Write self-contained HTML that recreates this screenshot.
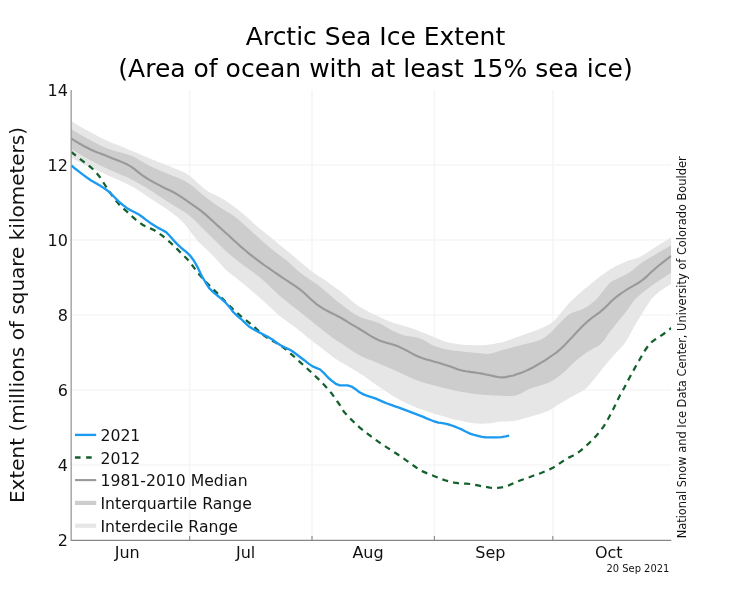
<!DOCTYPE html>
<html lang="en"><head><meta charset="utf-8"><title>Arctic Sea Ice Extent</title>
<style>html,body{margin:0;padding:0;background:#fff;width:750px;height:600px;overflow:hidden}</style></head>
<body>
<svg width="750" height="600" viewBox="0 0 750 600" style="position:absolute;left:0;top:0;font-family:'DejaVu Sans','Liberation Sans',sans-serif">
<rect width="750" height="600" fill="#fff"/>
<path d="M71.25,465.0H671.25 M71.25,390.0H671.25 M71.25,315.0H671.25 M71.25,240.0H671.25 M71.25,165.0H671.25 M189.7,90V540 M312.0,90V540 M434.4,90V540 M552.8,90V540" stroke="#f6f6f6" stroke-width="1.6" fill="none"/>
<clipPath id="ax"><rect x="71.25" y="90" width="600.0" height="450"/></clipPath><g clip-path="url(#ax)">
<path d="M71.4,121.0 L75.3,123.5 L79.3,125.9 L83.2,128.2 L87.2,130.5 L91.1,132.6 L95.1,134.7 L99.0,136.8 L103.0,138.7 L106.9,140.6 L110.9,142.4 L114.8,144.0 L118.8,145.6 L122.7,147.1 L126.7,148.7 L130.6,150.3 L134.6,151.9 L138.5,153.6 L142.4,155.4 L146.4,157.1 L150.3,158.7 L154.3,160.3 L158.2,161.9 L162.2,163.5 L166.1,165.0 L170.1,166.6 L174.0,168.2 L178.0,169.7 L181.9,171.3 L185.9,173.2 L189.8,175.9 L193.8,179.3 L197.7,182.9 L201.7,186.5 L205.6,189.7 L209.5,192.2 L213.5,194.2 L217.4,196.1 L221.4,198.2 L225.3,200.6 L229.3,203.3 L233.2,206.1 L237.2,209.1 L241.1,212.2 L245.1,215.5 L249.0,219.0 L253.0,222.7 L256.9,226.2 L260.9,229.4 L264.8,232.5 L268.8,235.7 L272.7,238.9 L276.6,242.2 L280.6,245.5 L284.5,248.8 L288.5,252.1 L292.4,255.3 L296.4,258.6 L300.3,261.9 L304.3,265.2 L308.2,268.6 L312.2,271.8 L316.1,274.6 L320.1,277.1 L324.0,279.6 L328.0,282.3 L331.9,285.0 L335.8,287.9 L339.8,290.8 L343.7,294.0 L347.7,297.3 L351.6,300.7 L355.6,303.9 L359.5,306.7 L363.5,309.1 L367.4,311.3 L371.4,313.3 L375.3,315.1 L379.3,317.0 L383.2,318.7 L387.2,320.5 L391.1,322.0 L395.1,323.4 L399.0,324.6 L402.9,325.6 L406.9,326.7 L410.8,327.9 L414.8,329.3 L418.7,330.9 L422.7,332.5 L426.6,334.1 L430.6,335.7 L434.5,337.3 L438.5,339.0 L442.4,340.7 L446.4,342.1 L450.3,342.9 L454.3,343.6 L458.2,344.2 L462.2,344.7 L466.1,345.0 L470.0,345.1 L474.0,345.2 L477.9,345.3 L481.9,345.3 L485.8,345.0 L489.8,344.5 L493.7,343.9 L497.7,343.1 L501.6,342.4 L505.6,341.3 L509.5,339.9 L513.5,338.4 L517.4,336.9 L521.4,335.5 L525.3,334.2 L529.3,332.8 L533.2,331.4 L537.1,329.9 L541.1,328.2 L545.0,326.5 L549.0,324.6 L552.9,322.0 L556.9,317.9 L560.8,312.9 L564.8,308.3 L568.7,303.6 L572.7,299.4 L576.6,295.9 L580.6,292.5 L584.5,289.1 L588.5,285.9 L592.4,282.6 L596.4,279.4 L600.3,276.3 L604.2,273.5 L608.2,270.8 L612.1,268.3 L616.1,266.1 L620.0,264.2 L624.0,262.4 L627.9,260.8 L631.9,259.6 L635.8,258.4 L639.8,257.0 L643.7,254.8 L647.7,252.3 L651.6,249.5 L655.6,247.0 L659.5,244.5 L663.5,242.1 L667.4,239.7 L671.2,237.3 L671.2,284.0 L667.4,286.2 L663.5,288.8 L659.5,291.6 L655.6,294.8 L651.6,298.8 L647.7,304.6 L643.7,310.9 L639.8,317.2 L635.8,323.7 L631.9,330.7 L627.9,338.4 L624.0,344.3 L620.0,348.7 L616.1,352.8 L612.1,357.2 L608.2,361.8 L604.2,366.5 L600.3,371.4 L596.4,376.4 L592.4,381.2 L588.5,386.0 L584.5,389.8 L580.6,392.1 L576.6,394.0 L572.7,396.2 L568.7,398.4 L564.8,400.7 L560.8,403.1 L556.9,405.6 L552.9,408.3 L549.0,410.5 L545.0,412.1 L541.1,413.5 L537.1,414.7 L533.2,415.8 L529.3,416.9 L525.3,418.1 L521.4,419.2 L517.4,420.2 L513.5,421.0 L509.5,421.3 L505.6,421.4 L501.6,421.5 L497.7,421.8 L493.7,422.7 L489.8,423.3 L485.8,423.5 L481.9,423.7 L477.9,423.6 L474.0,423.3 L470.0,422.7 L466.1,421.9 L462.2,421.1 L458.2,420.3 L454.3,419.4 L450.3,418.4 L446.4,417.3 L442.4,416.1 L438.5,414.9 L434.5,413.7 L430.6,412.5 L426.6,411.3 L422.7,410.0 L418.7,408.5 L414.8,407.0 L410.8,405.3 L406.9,403.4 L402.9,401.5 L399.0,399.5 L395.1,397.2 L391.1,394.8 L387.2,392.2 L383.2,389.6 L379.3,387.0 L375.3,384.3 L371.4,381.4 L367.4,378.6 L363.5,375.8 L359.5,373.2 L355.6,370.8 L351.6,368.5 L347.7,366.1 L343.7,363.7 L339.8,361.4 L335.8,359.0 L331.9,356.3 L328.0,353.1 L324.0,349.9 L320.1,346.7 L316.1,343.9 L312.2,341.1 L308.2,338.1 L304.3,334.6 L300.3,331.3 L296.4,328.2 L292.4,325.3 L288.5,322.4 L284.5,319.5 L280.6,316.5 L276.6,313.2 L272.7,309.6 L268.8,306.0 L264.8,302.3 L260.9,298.8 L256.9,295.3 L253.0,291.9 L249.0,288.5 L245.1,285.2 L241.1,281.9 L237.2,278.8 L233.2,275.8 L229.3,272.7 L225.3,269.2 L221.4,265.0 L217.4,260.5 L213.5,256.2 L209.5,252.2 L205.6,248.4 L201.7,245.0 L197.7,241.2 L193.8,236.1 L189.8,230.8 L185.9,225.6 L181.9,221.2 L178.0,217.6 L174.0,214.4 L170.1,211.5 L166.1,208.6 L162.2,206.0 L158.2,203.4 L154.3,200.9 L150.3,198.4 L146.4,195.8 L142.4,193.1 L138.5,190.5 L134.6,188.0 L130.6,185.7 L126.7,183.7 L122.7,181.9 L118.8,180.1 L114.8,178.4 L110.9,176.7 L106.9,174.9 L103.0,173.1 L99.0,171.2 L95.1,169.4 L91.1,167.5 L87.2,165.7 L83.2,163.8 L79.3,161.9 L75.3,159.9 L71.4,158.0Z" fill="#e6e6e6"/>
<path d="M71.4,129.3 L75.3,131.7 L79.3,134.1 L83.2,136.3 L87.2,138.5 L91.1,140.6 L95.1,142.7 L99.0,144.7 L103.0,146.6 L106.9,148.3 L110.9,149.8 L114.8,151.0 L118.8,152.0 L122.7,153.1 L126.7,154.2 L130.6,155.5 L134.6,157.3 L138.5,159.5 L142.4,161.8 L146.4,164.1 L150.3,166.2 L154.3,168.0 L158.2,169.8 L162.2,171.4 L166.1,173.1 L170.1,174.7 L174.0,176.3 L178.0,177.7 L181.9,179.4 L185.9,181.4 L189.8,183.9 L193.8,186.9 L197.7,190.4 L201.7,193.9 L205.6,197.1 L209.5,200.1 L213.5,203.0 L217.4,205.8 L221.4,208.3 L225.3,210.7 L229.3,213.0 L233.2,215.5 L237.2,218.4 L241.1,221.7 L245.1,225.4 L249.0,229.1 L253.0,232.7 L256.9,236.3 L260.9,239.8 L264.8,243.3 L268.8,246.7 L272.7,250.0 L276.6,253.0 L280.6,255.9 L284.5,258.8 L288.5,262.1 L292.4,265.8 L296.4,269.4 L300.3,272.8 L304.3,275.7 L308.2,278.5 L312.2,281.1 L316.1,283.8 L320.1,286.7 L324.0,289.9 L328.0,293.4 L331.9,296.8 L335.8,300.2 L339.8,303.3 L343.7,306.3 L347.7,309.3 L351.6,312.2 L355.6,314.7 L359.5,316.8 L363.5,318.3 L367.4,319.6 L371.4,320.6 L375.3,321.8 L379.3,323.2 L383.2,325.2 L387.2,327.8 L391.1,330.1 L395.1,331.9 L399.0,333.6 L402.9,335.0 L406.9,335.9 L410.8,336.5 L414.8,337.1 L418.7,337.9 L422.7,339.5 L426.6,341.8 L430.6,344.2 L434.5,345.9 L438.5,347.3 L442.4,348.5 L446.4,349.5 L450.3,350.1 L454.3,350.7 L458.2,351.1 L462.2,351.5 L466.1,351.9 L470.0,352.3 L474.0,352.7 L477.9,353.1 L481.9,353.5 L485.8,354.0 L489.8,353.7 L493.7,352.7 L497.7,351.4 L501.6,350.3 L505.6,349.2 L509.5,348.2 L513.5,347.1 L517.4,346.0 L521.4,344.9 L525.3,344.0 L529.3,343.2 L533.2,342.2 L537.1,341.0 L541.1,339.5 L545.0,337.2 L549.0,334.1 L552.9,330.6 L556.9,326.1 L560.8,321.9 L564.8,317.9 L568.7,314.5 L572.7,312.4 L576.6,311.2 L580.6,309.9 L584.5,308.0 L588.5,305.7 L592.4,302.8 L596.4,299.4 L600.3,294.4 L604.2,289.5 L608.2,284.6 L612.1,281.3 L616.1,279.2 L620.0,277.5 L624.0,275.5 L627.9,273.2 L631.9,270.7 L635.8,267.5 L639.8,264.1 L643.7,261.4 L647.7,258.9 L651.6,256.7 L655.6,254.4 L659.5,252.1 L663.5,249.8 L667.4,247.5 L671.2,245.3 L671.2,272.7 L667.4,275.2 L663.5,277.7 L659.5,280.3 L655.6,282.9 L651.6,285.7 L647.7,288.7 L643.7,291.8 L639.8,294.9 L635.8,298.4 L631.9,303.3 L627.9,309.2 L624.0,314.2 L620.0,319.1 L616.1,324.0 L612.1,329.0 L608.2,334.1 L604.2,340.2 L600.3,344.4 L596.4,346.9 L592.4,348.9 L588.5,351.2 L584.5,354.0 L580.6,356.9 L576.6,360.1 L572.7,363.6 L568.7,367.6 L564.8,371.4 L560.8,374.7 L556.9,377.8 L552.9,380.4 L549.0,382.5 L545.0,384.0 L541.1,385.3 L537.1,386.4 L533.2,387.6 L529.3,389.0 L525.3,391.0 L521.4,393.2 L517.4,395.0 L513.5,396.0 L509.5,396.0 L505.6,395.9 L501.6,395.8 L497.7,395.6 L493.7,395.5 L489.8,395.3 L485.8,395.0 L481.9,394.7 L477.9,394.2 L474.0,393.7 L470.0,393.2 L466.1,392.6 L462.2,392.0 L458.2,391.2 L454.3,390.4 L450.3,389.6 L446.4,388.6 L442.4,387.7 L438.5,386.6 L434.5,385.6 L430.6,384.6 L426.6,383.5 L422.7,382.3 L418.7,381.0 L414.8,379.5 L410.8,377.8 L406.9,376.0 L402.9,374.1 L399.0,372.3 L395.1,370.5 L391.1,368.8 L387.2,367.1 L383.2,365.4 L379.3,363.7 L375.3,362.1 L371.4,360.5 L367.4,358.9 L363.5,357.2 L359.5,355.3 L355.6,353.1 L351.6,350.6 L347.7,347.9 L343.7,345.1 L339.8,342.4 L335.8,339.9 L331.9,337.2 L328.0,334.3 L324.0,331.2 L320.1,328.0 L316.1,324.9 L312.2,321.8 L308.2,318.6 L304.3,315.4 L300.3,312.3 L296.4,309.1 L292.4,306.0 L288.5,303.0 L284.5,299.8 L280.6,296.5 L276.6,293.0 L272.7,289.3 L268.8,285.5 L264.8,281.7 L260.9,278.2 L256.9,275.0 L253.0,272.1 L249.0,269.3 L245.1,266.5 L241.1,263.6 L237.2,260.5 L233.2,257.3 L229.3,254.0 L225.3,250.6 L221.4,246.8 L217.4,242.7 L213.5,238.9 L209.5,235.0 L205.6,231.2 L201.7,227.4 L197.7,223.3 L193.8,219.3 L189.8,215.9 L185.9,213.0 L181.9,210.5 L178.0,208.1 L174.0,205.8 L170.1,203.3 L166.1,200.7 L162.2,198.0 L158.2,195.4 L154.3,192.7 L150.3,190.2 L146.4,187.8 L142.4,185.5 L138.5,183.2 L134.6,181.0 L130.6,179.0 L126.7,177.1 L122.7,175.4 L118.8,173.8 L114.8,172.1 L110.9,170.4 L106.9,168.6 L103.0,166.7 L99.0,164.7 L95.1,162.7 L91.1,160.6 L87.2,158.5 L83.2,156.2 L79.3,153.9 L75.3,151.5 L71.4,149.0Z" fill="#cdcdcd"/>
<path d="M71.4,138.6 L75.3,141.1 L79.3,143.5 L83.2,145.7 L87.2,147.8 L91.1,149.7 L95.1,151.5 L99.0,153.1 L103.0,154.6 L106.9,156.1 L110.9,157.7 L114.8,159.2 L118.8,160.8 L122.7,162.4 L126.7,164.2 L130.6,166.4 L134.6,169.1 L138.5,172.4 L142.4,175.4 L146.4,178.0 L150.3,180.3 L154.3,182.6 L158.2,184.7 L162.2,186.8 L166.1,188.7 L170.1,190.5 L174.0,192.5 L178.0,194.8 L181.9,197.3 L185.9,200.1 L189.8,202.9 L193.8,205.6 L197.7,208.4 L201.7,211.4 L205.6,214.6 L209.5,218.1 L213.5,221.8 L217.4,225.4 L221.4,228.9 L225.3,232.5 L229.3,236.0 L233.2,239.7 L237.2,243.3 L241.1,246.9 L245.1,250.3 L249.0,253.6 L253.0,256.7 L256.9,259.7 L260.9,262.6 L264.8,265.5 L268.8,268.2 L272.7,271.0 L276.6,273.7 L280.6,276.4 L284.5,279.0 L288.5,281.6 L292.4,284.2 L296.4,286.9 L300.3,289.7 L304.3,293.0 L308.2,296.7 L312.2,300.4 L316.1,303.8 L320.1,306.7 L324.0,309.1 L328.0,311.2 L331.9,313.2 L335.8,315.1 L339.8,317.2 L343.7,319.5 L347.7,321.8 L351.6,324.3 L355.6,326.7 L359.5,329.0 L363.5,331.4 L367.4,333.9 L371.4,336.3 L375.3,338.5 L379.3,340.4 L383.2,341.8 L387.2,343.0 L391.1,344.1 L395.1,345.2 L399.0,346.7 L402.9,348.6 L406.9,350.7 L410.8,352.9 L414.8,355.0 L418.7,356.8 L422.7,358.2 L426.6,359.4 L430.6,360.5 L434.5,361.7 L438.5,362.8 L442.4,364.0 L446.4,365.2 L450.3,366.6 L454.3,368.0 L458.2,369.5 L462.2,370.6 L466.1,371.3 L470.0,371.9 L474.0,372.4 L477.9,373.0 L481.9,373.6 L485.8,374.5 L489.8,375.3 L493.7,376.1 L497.7,377.0 L501.6,377.4 L505.6,377.1 L509.5,376.3 L513.5,375.4 L517.4,374.1 L521.4,372.7 L525.3,371.1 L529.3,369.3 L533.2,367.3 L537.1,365.0 L541.1,362.7 L545.0,360.3 L549.0,357.7 L552.9,355.0 L556.9,352.1 L560.8,348.8 L564.8,344.9 L568.7,340.8 L572.7,336.6 L576.6,332.3 L580.6,328.1 L584.5,324.2 L588.5,320.6 L592.4,317.5 L596.4,314.7 L600.3,311.8 L604.2,308.4 L608.2,304.5 L612.1,300.5 L616.1,297.1 L620.0,294.2 L624.0,291.5 L627.9,288.9 L631.9,286.6 L635.8,284.4 L639.8,282.0 L643.7,279.1 L647.7,275.6 L651.6,271.8 L655.6,268.2 L659.5,265.0 L663.5,261.9 L667.4,258.8 L671.2,256.0" stroke="#999" stroke-width="2.1" fill="none" stroke-linejoin="round"/>
<path d="M71.4,152.0 L75.3,155.2 L79.3,158.3 L83.2,161.4 L87.2,164.4 L91.1,167.5 L95.1,171.3 L99.0,175.9 L103.0,181.9 L106.9,187.9 L110.9,193.8 L114.8,199.4 L118.8,204.1 L122.7,207.9 L126.7,211.4 L130.6,215.1 L134.6,218.7 L138.5,221.8 L142.4,224.7 L146.4,226.8 L150.3,228.4 L154.3,230.2 L158.2,232.7 L162.2,235.7 L166.1,238.8 L170.1,242.3 L174.0,246.0 L178.0,249.9 L181.9,253.9 L185.9,257.7 L189.8,261.9 L193.8,267.4 L197.7,272.6 L201.7,277.4 L205.6,281.7 L209.5,285.6 L213.5,289.5 L217.4,293.4 L221.4,297.4 L225.3,301.5 L229.3,305.5 L233.2,309.4 L237.2,313.0 L241.1,316.3 L245.1,319.5 L249.0,322.6 L253.0,325.8 L256.9,329.4 L260.9,332.9 L264.8,336.1 L268.8,338.7 L272.7,340.9 L276.6,343.0 L280.6,345.4 L284.5,348.4 L288.5,351.7 L292.4,355.1 L296.4,358.7 L300.3,362.3 L304.3,365.9 L308.2,369.5 L312.2,373.2 L316.1,376.9 L320.1,380.7 L324.0,384.8 L328.0,389.1 L331.9,393.8 L335.8,399.2 L339.8,405.0 L343.7,411.4 L347.7,416.1 L351.6,419.9 L355.6,423.8 L359.5,427.3 L363.5,430.6 L367.4,433.7 L371.4,436.6 L375.3,439.5 L379.3,442.3 L383.2,445.0 L387.2,447.6 L391.1,450.2 L395.1,452.8 L399.0,455.3 L402.9,458.0 L406.9,460.8 L410.8,463.6 L414.8,466.5 L418.7,469.3 L422.7,471.4 L426.6,473.1 L430.6,474.7 L434.5,476.2 L438.5,477.8 L442.4,479.4 L446.4,480.7 L450.3,481.8 L454.3,482.7 L458.2,483.2 L462.2,483.5 L466.1,483.7 L470.0,484.0 L474.0,484.6 L477.9,485.4 L481.9,486.2 L485.8,486.9 L489.8,487.6 L493.7,488.0 L497.7,487.8 L501.6,487.4 L505.6,486.6 L509.5,485.1 L513.5,483.1 L517.4,481.5 L521.4,480.0 L525.3,478.7 L529.3,477.3 L533.2,475.8 L537.1,474.4 L541.1,473.0 L545.0,471.4 L549.0,469.7 L552.9,467.7 L556.9,465.5 L560.8,462.6 L564.8,459.8 L568.7,457.6 L572.7,455.8 L576.6,453.6 L580.6,450.7 L584.5,447.3 L588.5,443.7 L592.4,439.8 L596.4,435.6 L600.3,431.2 L604.2,425.6 L608.2,418.7 L612.1,411.6 L616.1,403.3 L620.0,395.2 L624.0,388.2 L627.9,380.7 L631.9,373.3 L635.8,366.2 L639.8,359.3 L643.7,352.2 L647.7,346.5 L651.6,342.2 L655.6,339.2 L659.5,336.8 L663.5,334.0 L667.4,331.0 L671.2,328.0" stroke="#12602b" stroke-width="2.25" fill="none" stroke-dasharray="6 5.12" stroke-dashoffset="0.22" stroke-linejoin="round"/>
<path d="M71.4,165.5 L75.3,168.8 L79.3,171.9 L83.2,174.9 L87.2,177.8 L91.1,180.4 L95.1,182.7 L99.0,185.0 L103.0,187.4 L106.9,190.2 L110.9,193.5 L114.8,197.5 L118.8,201.6 L122.7,204.9 L126.7,207.9 L130.6,210.3 L134.6,212.3 L138.5,214.3 L142.4,217.0 L146.4,220.1 L150.3,222.9 L154.3,225.5 L158.2,227.9 L162.2,230.0 L166.1,232.1 L170.1,236.2 L174.0,240.8 L178.0,244.8 L181.9,248.5 L185.9,251.6 L189.8,255.3 L193.8,260.5 L197.7,267.4 L201.7,275.9 L205.6,282.5 L209.5,288.5 L213.5,292.4 L217.4,295.5 L221.4,298.8 L225.3,302.3 L229.3,306.9 L233.2,312.0 L237.2,315.9 L241.1,319.0 L245.1,322.9 L249.0,326.5 L253.0,329.0 L256.9,331.1 L260.9,333.2 L264.8,335.3 L268.8,337.4 L272.7,339.8 L276.6,342.7 L280.6,345.3 L284.5,347.3 L288.5,349.1 L292.4,351.3 L296.4,354.2 L300.3,357.2 L304.3,360.2 L308.2,363.4 L312.2,366.1 L316.1,367.8 L320.1,369.5 L324.0,373.1 L328.0,377.5 L331.9,380.9 L335.8,383.8 L339.8,385.3 L343.7,385.3 L347.7,385.3 L351.6,386.6 L355.6,389.2 L359.5,392.3 L363.5,394.4 L367.4,395.8 L371.4,397.1 L375.3,398.4 L379.3,400.1 L383.2,401.8 L387.2,403.5 L391.1,404.9 L395.1,406.3 L399.0,407.6 L402.9,409.1 L406.9,410.6 L410.8,412.1 L414.8,413.6 L418.7,415.1 L422.7,416.7 L426.6,418.4 L430.6,420.0 L434.5,421.5 L438.5,422.6 L442.4,423.2 L446.4,423.9 L450.3,425.0 L454.3,426.4 L458.2,428.0 L462.2,429.7 L466.1,431.8 L470.0,433.6 L474.0,434.8 L477.9,435.8 L481.9,436.8 L485.8,437.3 L489.8,437.3 L493.7,437.3 L497.7,437.3 L501.6,437.1 L505.6,436.4 L509.2,435.6" stroke="#1a9af0" stroke-width="2.35" fill="none" stroke-linejoin="round" stroke-linecap="butt"/>
</g>
<path d="M71.14,90V540.4 M70.6,540.4H671.25 M189.7,540.4v-4.4 M312.0,540.4v-4.4 M434.4,540.4v-4.4 M552.8,540.4v-4.4" stroke="#878787" stroke-width="1.1" fill="none"/>
<text x="67.9" y="545.8" font-size="16" text-anchor="end" fill="#111">2</text>
<text x="67.9" y="470.8" font-size="16" text-anchor="end" fill="#111">4</text>
<text x="67.9" y="395.8" font-size="16" text-anchor="end" fill="#111">6</text>
<text x="67.9" y="320.8" font-size="16" text-anchor="end" fill="#111">8</text>
<text x="67.9" y="245.8" font-size="16" text-anchor="end" fill="#111">10</text>
<text x="67.9" y="170.8" font-size="16" text-anchor="end" fill="#111">12</text>
<text x="67.9" y="95.8" font-size="16" text-anchor="end" fill="#111">14</text>
<text x="127.2" y="558" font-size="16" text-anchor="middle" fill="#111">Jun</text>
<text x="245.6" y="558" font-size="16" text-anchor="middle" fill="#111">Jul</text>
<text x="368.0" y="558" font-size="16" text-anchor="middle" fill="#111">Aug</text>
<text x="490.4" y="558" font-size="16" text-anchor="middle" fill="#111">Sep</text>
<text x="608.8" y="558" font-size="16" text-anchor="middle" fill="#111">Oct</text>
<text x="375.5" y="44.5" font-size="25" text-anchor="middle" fill="#000">Arctic Sea Ice Extent</text>
<text x="375.5" y="76.5" font-size="25" text-anchor="middle" fill="#000">(Area of ocean with at least 15% sea ice)</text>
<text transform="translate(24.2,315) rotate(-90)" font-size="20" text-anchor="middle" fill="#111">Extent (millions of square kilometers)</text>
<text transform="translate(686.3,538.3) rotate(-90)" font-size="11.42" text-anchor="start" fill="#111">National Snow and Ice Data Center, University of Colorado Boulder</text>
<text x="669.3" y="572.3" font-size="9.92" text-anchor="end" fill="#111">20 Sep 2021</text>
<path d="M75,434.9h21.2" stroke="#1a9af0" stroke-width="2.35"/>
<path d="M75,457.5h21.2" stroke="#12602b" stroke-width="2.35" stroke-dasharray="5.56 5.56"/>
<path d="M75,480.1h21.2" stroke="#999" stroke-width="2.1"/>
<path d="M75,502.9h21.2" stroke="#cdcdcd" stroke-width="4.2"/>
<path d="M75,525.7h21.2" stroke="#e6e6e6" stroke-width="4.2"/>
<text x="100.5" y="441.1" font-size="15.65" fill="#111">2021</text>
<text x="100.5" y="463.7" font-size="15.65" fill="#111">2012</text>
<text x="100.5" y="486.3" font-size="15.65" fill="#111">1981-2010 Median</text>
<text x="100.5" y="509.1" font-size="15.65" fill="#111">Interquartile Range</text>
<text x="100.5" y="531.9" font-size="15.65" fill="#111">Interdecile Range</text>
</svg>
</body></html>
